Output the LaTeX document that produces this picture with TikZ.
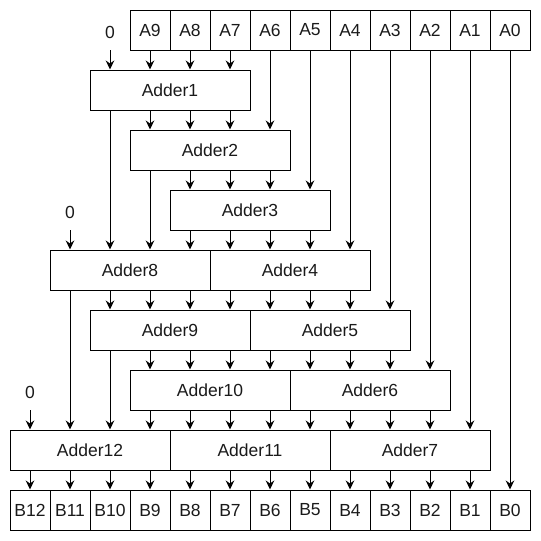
\documentclass[tikz,border=0pt]{standalone}
\usepackage{fontspec}
\setmainfont{Liberation Sans}
\usetikzlibrary{arrows.meta}
\definecolor{txt}{HTML}{1A1A1A}
\begin{document}
\begin{tikzpicture}[x=1pt,y=-1pt,
  every node/.style={font=\fontsize{17.5}{20}\selectfont, text=txt},
  cell/.style={draw=black, line width=1pt, minimum width=40pt, minimum height=40pt, inner sep=0pt},
  adder/.style={draw=black, line width=1pt, minimum width=160pt, minimum height=40pt, inner sep=0pt},
  zero/.style={minimum height=36pt, inner sep=0pt},
  arr/.style={line width=1pt, -{Stealth[length=9pt,width=8.5pt,inset=3pt]}}]
\useasboundingbox (0,0) rectangle (541,541);
% input cells
\node[cell] (a9) at (150,30) {A9};
\node[cell] (a8) at (190,30) {A8};
\node[cell] (a7) at (230,30) {A7};
\node[cell] (a6) at (270,30) {A6};
\node[cell] (a5) at (310,30) {A5};
\node[cell] (a4) at (350,30) {A4};
\node[cell] (a3) at (390,30) {A3};
\node[cell] (a2) at (430,30) {A2};
\node[cell] (a1) at (470,30) {A1};
\node[cell] (a0) at (510,30) {A0};
% output cells
\node[cell] (b12) at (30,510) {B12};
\node[cell] (b11) at (70,510) {B11};
\node[cell] (b10) at (110,510) {B10};
\node[cell] (b9) at (150,510) {B9};
\node[cell] (b8) at (190,510) {B8};
\node[cell] (b7) at (230,510) {B7};
\node[cell] (b6) at (270,510) {B6};
\node[cell] (b5) at (310,510) {B5};
\node[cell] (b4) at (350,510) {B4};
\node[cell] (b3) at (390,510) {B3};
\node[cell] (b2) at (430,510) {B2};
\node[cell] (b1) at (470,510) {B1};
\node[cell] (b0) at (510,510) {B0};
% zeros
\node[zero] (z1) at (110,32) {0};
\node[zero] (z2) at (70,212) {0};
\node[zero] (z3) at (30,392) {0};
% adders
\node[adder] (adder1) at (170,90) {Adder1};
\node[adder] (adder2) at (210,150) {Adder2};
\node[adder] (adder3) at (250,210) {Adder3};
\node[adder] (adder8) at (130,270) {Adder8};
\node[adder] (adder4) at (290,270) {Adder4};
\node[adder] (adder9) at (170,330) {Adder9};
\node[adder] (adder5) at (330,330) {Adder5};
\node[adder] (adder10) at (210,390) {Adder10};
\node[adder] (adder6) at (370,390) {Adder6};
\node[adder] (adder12) at (90,450) {Adder12};
\node[adder] (adder11) at (250,450) {Adder11};
\node[adder] (adder7) at (410,450) {Adder7};
% connectors: column / source / destination
\foreach \c/\s/\d in {
  z1/z1/adder1, a9/a9/adder1, a8/a8/adder1, a7/a7/adder1,
  a6/a6/adder2, a5/a5/adder3, a4/a4/adder4, a3/a3/adder5,
  a2/a2/adder6, a1/a1/adder7, a0/a0/b0,
  b10/adder1/adder8, b9/adder1/adder2, b8/adder1/adder2, b7/adder1/adder2,
  b9/adder2/adder8, b8/adder2/adder3, b7/adder2/adder3, b6/adder2/adder3,
  b8/adder3/adder8, b7/adder3/adder8, b6/adder3/adder4, b5/adder3/adder4,
  z2/z2/adder8,
  b11/adder8/adder12, b10/adder8/adder9, b9/adder8/adder9, b8/adder8/adder9,
  b7/adder4/adder9, b6/adder4/adder5, b5/adder4/adder5, b4/adder4/adder5,
  b10/adder9/adder12, b9/adder9/adder10, b8/adder9/adder10, b7/adder9/adder10,
  b6/adder5/adder10, b5/adder5/adder6, b4/adder5/adder6, b3/adder5/adder6,
  b9/adder10/adder12, b8/adder10/adder11, b7/adder10/adder11, b6/adder10/adder11,
  b5/adder6/adder11, b4/adder6/adder7, b3/adder6/adder7, b2/adder6/adder7,
  z3/z3/adder12,
  b12/adder12/b12, b11/adder12/b11, b10/adder12/b10, b9/adder12/b9,
  b8/adder11/b8, b7/adder11/b7, b6/adder11/b6, b5/adder11/b5,
  b4/adder7/b4, b3/adder7/b3, b2/adder7/b2, b1/adder7/b1}
  \draw[arr] (\c |- \s.south) -- (\c |- \d.north);
\end{tikzpicture}
\end{document}
